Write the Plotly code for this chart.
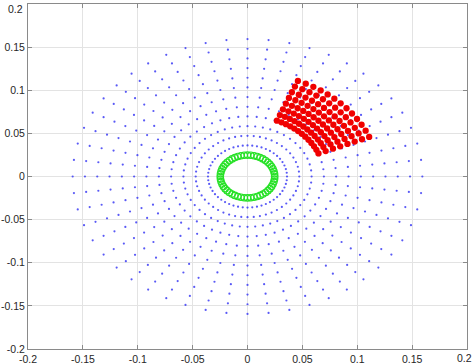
import numpy as np
import plotly.graph_objects as go

# ---- data ----
# polar grid (blue): ring radii and spoke angles (degrees)
grid_radii = [0.0360, 0.0472, 0.0584, 0.0696, 0.0808, 0.0921,
              0.1033, 0.1145, 0.1257, 0.1369, 0.1481, 0.1593]
grid_angles_deg = [0.00, 6.92, 13.85, 20.77, 27.69, 34.62, 41.54, 48.46,
                   55.38, 62.31, 69.23, 76.15, 83.08, 90.00, 96.92, 103.85,
                   110.77, 117.69, 124.62, 131.54, 138.46, 145.38, 152.31,
                   159.23, 166.15, 173.08, 180.00, 186.92, 193.85, 200.77,
                   207.69, 214.62, 221.54, 228.46, 235.38, 242.31, 249.23,
                   256.15, 263.08, 270.00, 276.92, 283.85, 290.77, 297.69,
                   304.62, 311.54, 318.46, 325.38, 332.31, 339.23, 346.15,
                   353.08]

# inner boundary ring (green)
boundary_radius = [0.0248]

# highlighted sector (red)
sector_radii = [0.0700, 0.0771, 0.0843, 0.0914, 0.0986, 0.1057, 0.1129, 0.1200]
sector_angles_deg = [22.50, 26.25, 30.00, 33.75, 37.50, 41.25, 45.00,
                     48.75, 52.50, 56.25, 60.00, 63.75, 67.50]

tick_vals = [-0.2, -0.15, -0.1, -0.05, 0, 0.05, 0.1, 0.15, 0.2]
tick_text = ["-0.2", "-0.15", "-0.1", "-0.05", "0", "0.05", "0.1", "0.15", "0.2"]


def polar_mesh(radii, angles_deg):
    r = np.array(radii)[:, None]
    a = np.deg2rad(np.array(angles_deg))[None, :]
    return (r * np.cos(a)).ravel(), (r * np.sin(a)).ravel()


bx, by = polar_mesh(grid_radii, grid_angles_deg)
gx, gy = polar_mesh(boundary_radius, grid_angles_deg)
rx, ry = polar_mesh(sector_radii, sector_angles_deg)

fig = go.Figure()
fig.add_trace(go.Scatter(x=bx, y=by, mode="markers",
                         marker=dict(size=2.2, color="rgb(60,60,245)", opacity=0.85),
                         hoverinfo="skip", showlegend=False))
fig.add_trace(go.Scatter(x=gx, y=gy, mode="markers",
                         marker=dict(size=6.5, color="rgba(0,0,0,0)",
                                     line=dict(color="rgb(40,225,40)", width=1.2)),
                         hoverinfo="skip", showlegend=False))
fig.add_trace(go.Scatter(x=rx, y=ry, mode="markers",
                         marker=dict(size=6.3, color="rgb(240,0,0)"),
                         hoverinfo="skip", showlegend=False))

font = dict(family="Liberation Sans, Arial, sans-serif", size=10.5, color="#262626")

axis_common = dict(
    tickvals=tick_vals, ticktext=tick_text,
    showgrid=True, gridcolor="#e3e3e3", gridwidth=1,
    zeroline=False, showline=True, linecolor="#8a8a8a", linewidth=1,
    mirror="ticks", ticks="inside", ticklen=4, tickcolor="#8a8a8a",
    tickfont=font, automargin=False,
)

fig.update_layout(
    width=474, height=364,
    margin=dict(l=28, r=7, t=4, b=15, autoexpand=False),
    paper_bgcolor="white", plot_bgcolor="white",
    xaxis=dict(range=[-0.2, 0.2], **axis_common),
    yaxis=dict(range=[-0.2, 0.2], **axis_common),
)

# edge tick labels, which plotly hides at the very edge of the figure
fig.add_annotation(xref="paper", yref="paper", x=0, y=1,
                   xanchor="right", yanchor="top", xshift=-3, yshift=3,
                   text=tick_text[-1], showarrow=False, font=font)
fig.add_annotation(xref="paper", yref="paper", x=1, y=0,
                   xanchor="right", yanchor="top", xshift=7, yshift=-1,
                   text=tick_text[-1], showarrow=False, font=font)

fig.write_html("out.html",
               config={"displayModeBar": False},
               post_script="document.body.style.margin='0';"
                           "document.body.style.overflow='hidden';")
